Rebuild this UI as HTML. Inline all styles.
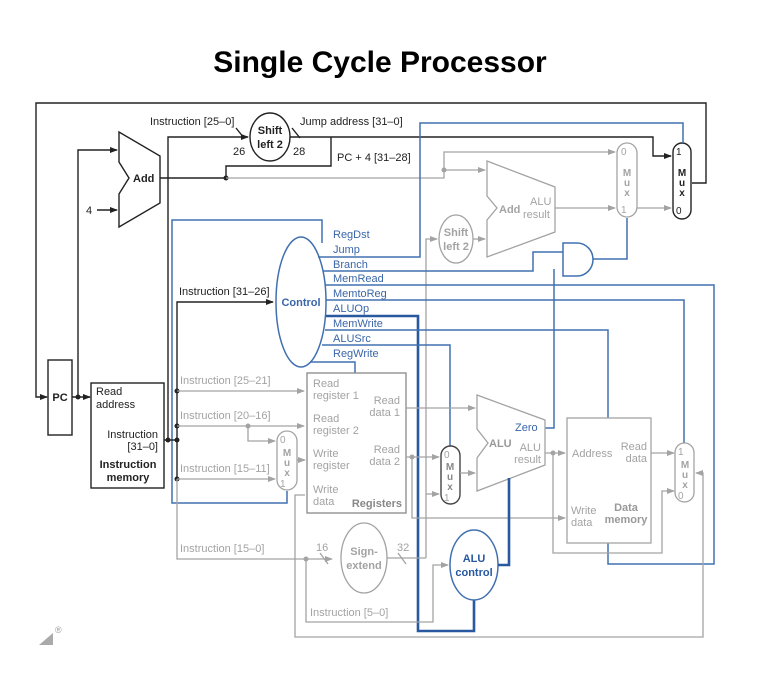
<!DOCTYPE html>
<html><head><meta charset="utf-8"><style>
html,body{margin:0;padding:0;background:#fff;width:783px;height:683px;overflow:hidden}
svg{display:block;font-family:"Liberation Sans",Arial,sans-serif}
.k{stroke:#222;fill:none;stroke-width:1.4}
.g{stroke:#a3a3a3;fill:none;stroke-width:1.3}
.b{stroke:#4070b0;fill:none;stroke-width:1.5}
.bt{stroke:#2858a0;fill:none;stroke-width:2.6}
text{font-size:11px}
.tk{fill:#222}.tg{fill:#a3a3a3}.tb{fill:#3a66aa}
.bold{font-weight:bold}
</style></head><body>
<svg width="783" height="683" viewBox="0 0 783 683">
<defs>
<marker id="ak" markerWidth="8" markerHeight="6" refX="7" refY="3" orient="auto" markerUnits="userSpaceOnUse"><path d="M0,0L8,3L0,6z" fill="#222"/></marker>
<marker id="ag" markerWidth="8" markerHeight="6" refX="7" refY="3" orient="auto" markerUnits="userSpaceOnUse"><path d="M0,0L8,3L0,6z" fill="#a3a3a3"/></marker>
</defs>
<text x="380" y="72" text-anchor="middle" style="font-size:30px;font-weight:bold" fill="#000">Single Cycle Processor</text>

<!-- black outer loop -->
<path class="k" d="M692,183H706V103H36V397H47" marker-end="url(#ak)"/>
<rect x="48" y="360" width="24" height="75" class="k" fill="#fff"/>
<text x="60" y="401" text-anchor="middle" class="tk bold">PC</text>
<path class="k" d="M72,397H90" marker-end="url(#ak)"/>
<circle cx="78" cy="397" r="2.5" fill="#222"/>
<path class="k" d="M78,397V150H117" marker-end="url(#ak)"/>
<text x="86" y="214" class="tk">4</text>
<path class="k" d="M97,210H117" marker-end="url(#ak)"/>
<polygon class="k" points="119,132 160,156 160,203 119,227 119,194 129,178 119,162"/>
<text x="133" y="182" class="tk bold">Add</text>
<path class="k" d="M160,178H226V166H331V137"/>
<circle cx="226" cy="178" r="2.5" fill="#222"/>
<path class="g" d="M226,178H444V152H615" marker-end="url(#ag)"/>
<circle cx="444" cy="170" r="2.5" fill="#a3a3a3"/>
<path class="g" d="M444,170H485" marker-end="url(#ag)"/>

<!-- jump / shift -->
<path class="k" d="M168,440V137H248" marker-end="url(#ak)"/>
<ellipse cx="270" cy="137" rx="20" ry="24" class="k" fill="#fff"/>
<text x="270" y="134" text-anchor="middle" class="tk bold">Shift</text>
<text x="270" y="148" text-anchor="middle" class="tk bold">left 2</text>
<path class="k" d="M236,128L244,138M292,128L300,138"/>
<text x="150" y="125" class="tk">Instruction [25–0]</text>
<text x="233" y="155" class="tk">26</text>
<text x="293" y="155" class="tk">28</text>
<text x="300" y="125" class="tk">Jump address [31–0]</text>
<text x="337" y="161" class="tk">PC + 4 [31–28]</text>
<path class="k" d="M290,137H653V156H671" marker-end="url(#ak)"/>

<!-- right mux -->
<rect x="673" y="143" width="18" height="76" rx="9" class="k" fill="#fff"/>
<text x="676" y="155" class="tk" style="font-size:10px">1</text>
<text x="682" y="176" text-anchor="middle" class="tk bold" style="font-size:10px">M</text>
<text x="682" y="186" text-anchor="middle" class="tk bold" style="font-size:10px">u</text>
<text x="682" y="196" text-anchor="middle" class="tk bold" style="font-size:10px">x</text>
<text x="676" y="214" class="tk" style="font-size:10px">0</text>

<!-- gray mux -->
<rect x="617" y="143" width="20" height="74" rx="10" class="g" fill="#fff"/>
<text x="621" y="155" class="tg" style="font-size:10px">0</text>
<text x="627" y="176" text-anchor="middle" class="tg bold" style="font-size:10px">M</text>
<text x="627" y="186" text-anchor="middle" class="tg bold" style="font-size:10px">u</text>
<text x="627" y="196" text-anchor="middle" class="tg bold" style="font-size:10px">x</text>
<text x="621" y="213" class="tg" style="font-size:10px">1</text>
<path class="g" d="M637,208H671" marker-end="url(#ag)"/>

<!-- Add2 -->
<polygon class="g" points="487,161 555,187 555,232 487,257 487,220 497,208 487,196"/>
<text x="499" y="213" class="tg bold">Add</text>
<text x="530" y="205" class="tg">ALU</text>
<text x="523" y="218" class="tg">result</text>
<path class="g" d="M555,208H615" marker-end="url(#ag)"/>
<ellipse cx="456" cy="239" rx="17" ry="24" class="g" fill="#fff"/>
<text x="456" y="236" text-anchor="middle" class="tg bold">Shift</text>
<text x="456" y="250" text-anchor="middle" class="tg bold">left 2</text>
<path class="g" d="M426,558V239H437" marker-end="url(#ag)"/>
<path class="g" d="M473,239H485" marker-end="url(#ag)"/>

<!-- AND gate -->
<path class="b" d="M563,243H577A16,16.5 0 0 1 577,276H563Z" fill="#fff"/>
<path class="b" d="M593,259H627V218"/>

<!-- Control -->
<ellipse cx="301" cy="302" rx="25" ry="65" class="b" fill="#fff"/>
<text x="301" y="306" text-anchor="middle" class="tb bold">Control</text>
<g class="tb">
<text x="333" y="238">RegDst</text>
<text x="333" y="253">Jump</text>
<text x="333" y="268">Branch</text>
<text x="333" y="282">MemRead</text>
<text x="333" y="297">MemtoReg</text>
<text x="333" y="312">ALUOp</text>
<text x="333" y="327">MemWrite</text>
<text x="333" y="342">ALUSrc</text>
<text x="333" y="357">RegWrite</text>
</g>
<path class="b" d="M322,243V220H172V503H287V491"/>
<path class="b" d="M318,257H420V123H683V143"/>
<path class="b" d="M323,271H533V252H563"/>
<path class="b" d="M325,285H714V564H608V543"/>
<path class="b" d="M326,300H684V443"/>
<path class="bt" d="M326,316H418V631H474V600"/>
<path class="b" d="M325,330H608V418"/>
<path class="b" d="M322,345H450V446"/>
<path class="b" d="M310,362H355V373"/>
<path class="b" d="M554,269H554V428H545"/>

<!-- Instruction memory -->
<rect x="91" y="383" width="73" height="105" class="k" fill="#fff"/>
<text x="96" y="395" class="tk">Read</text>
<text x="96" y="408" class="tk">address</text>
<text x="158" y="438" text-anchor="end" class="tk">Instruction</text>
<text x="158" y="450" text-anchor="end" class="tk">[31–0]</text>
<text x="128" y="468" text-anchor="middle" class="tk bold">Instruction</text>
<text x="128" y="481" text-anchor="middle" class="tk bold">memory</text>
<path class="k" d="M164,440H177"/>
<path class="k" d="M177,479V302H273" marker-end="url(#ak)"/>
<text x="179" y="295" class="tk">Instruction [31–26]</text>
<circle cx="168" cy="440" r="2.5" fill="#222"/>
<circle cx="177" cy="440" r="2.5" fill="#222"/>
<circle cx="177" cy="391" r="2.5" fill="#222"/>
<circle cx="177" cy="426" r="2.5" fill="#222"/>
<circle cx="177" cy="479" r="2.5" fill="#222"/>

<path class="g" d="M177,391H304" marker-end="url(#ag)"/>
<path class="g" d="M177,426H304" marker-end="url(#ag)"/>
<circle cx="248" cy="426" r="2.5" fill="#a3a3a3"/>
<path class="g" d="M248,426V441H275" marker-end="url(#ag)"/>
<path class="g" d="M177,479H275" marker-end="url(#ag)"/>
<path class="g" d="M177,479V559H332" marker-end="url(#ag)"/>
<text x="180" y="384" class="tg">Instruction [25–21]</text>
<text x="180" y="419" class="tg">Instruction [20–16]</text>
<text x="180" y="472" class="tg">Instruction [15–11]</text>
<text x="180" y="552" class="tg">Instruction [15–0]</text>

<!-- regdst mux -->
<rect x="277" y="431" width="20" height="59" rx="10" class="g" fill="#fff"/>
<text x="280" y="443" class="tg" style="font-size:10px">0</text>
<text x="287" y="456" text-anchor="middle" class="tg bold" style="font-size:10px">M</text>
<text x="287" y="466" text-anchor="middle" class="tg bold" style="font-size:10px">u</text>
<text x="287" y="476" text-anchor="middle" class="tg bold" style="font-size:10px">x</text>
<text x="280" y="487" class="tg" style="font-size:10px">1</text>
<path class="g" d="M297,460H305" marker-end="url(#ag)"/>

<!-- Registers -->
<rect x="307" y="373" width="99" height="140" class="g" style="stroke:#888" fill="#fff"/>
<g class="tg">
<text x="313" y="387">Read</text><text x="313" y="399">register 1</text>
<text x="313" y="422">Read</text><text x="313" y="434">register 2</text>
<text x="313" y="457">Write</text><text x="313" y="469">register</text>
<text x="313" y="493">Write</text><text x="313" y="505">data</text>
<text x="400" y="404" text-anchor="end">Read</text><text x="400" y="416" text-anchor="end">data 1</text>
<text x="400" y="453" text-anchor="end">Read</text><text x="400" y="465" text-anchor="end">data 2</text>
</g>
<text x="402" y="507" text-anchor="end" class="bold" fill="#888">Registers</text>
<path class="g" d="M406,408H475" marker-end="url(#ag)"/>
<path class="g" d="M406,457H439" marker-end="url(#ag)"/>
<circle cx="412" cy="457" r="2.5" fill="#a3a3a3"/>
<path class="g" d="M412,457V518H565" marker-end="url(#ag)"/>

<!-- ALU mux -->
<rect x="441" y="446" width="19" height="58" rx="9.5" class="k" style="stroke:#444" fill="#fff"/>
<text x="444" y="458" class="tg" style="font-size:10px">0</text>
<text x="450" y="470" text-anchor="middle" class="tg bold" style="font-size:10px;fill:#888">M</text>
<text x="450" y="480" text-anchor="middle" class="tg bold" style="font-size:10px;fill:#888">u</text>
<text x="450" y="490" text-anchor="middle" class="tg bold" style="font-size:10px;fill:#888">x</text>
<text x="444" y="501" class="tg" style="font-size:10px">1</text>
<path class="g" d="M460,473H475" marker-end="url(#ag)"/>
<path class="g" d="M426,494H439" marker-end="url(#ag)"/>

<!-- Sign extend -->
<ellipse cx="364" cy="558" rx="23" ry="35" class="g" fill="#fff"/>
<text x="364" y="555" text-anchor="middle" class="tg bold">Sign-</text>
<text x="364" y="569" text-anchor="middle" class="tg bold">extend</text>
<path class="g" d="M387,558H426"/>
<path class="g" d="M320,553L328,564M398,553L406,564"/>
<text x="316" y="551" class="tg">16</text>
<text x="397" y="551" class="tg">32</text>
<circle cx="306" cy="559" r="2.5" fill="#a3a3a3"/>
<path class="g" d="M306,559V622H433V565H448" marker-end="url(#ag)"/>
<text x="310" y="616" class="tg">Instruction [5–0]</text>
<path class="g" d="M305,495H295V637H703V473H696" marker-end="url(#ag)"/>

<!-- ALU -->
<polygon class="g" points="477,395 545,420 545,465 477,491 477,458 488,443 477,429"/>
<text x="489" y="447" class="bold" fill="#999">ALU</text>
<text x="515" y="431" class="tb">Zero</text>
<text x="541" y="451" text-anchor="end" class="tg">ALU</text>
<text x="541" y="463" text-anchor="end" class="tg">result</text>
<path class="g" d="M545,453H565" marker-end="url(#ag)"/>
<circle cx="553" cy="453" r="2.5" fill="#a3a3a3"/>
<path class="g" d="M553,453V553H662V491H674" marker-end="url(#ag)"/>

<!-- ALU control -->
<ellipse cx="474" cy="565" rx="24" ry="35" class="b" fill="#fff"/>
<text x="474" y="562" text-anchor="middle" class="tb bold" style="fill:#2858a0">ALU</text>
<text x="474" y="576" text-anchor="middle" class="tb bold" style="fill:#2858a0">control</text>
<path class="bt" d="M498,565H509V478"/>

<!-- Data memory -->
<rect x="567" y="418" width="84" height="125" class="g" fill="#fff"/>
<g class="tg">
<text x="572" y="457">Address</text>
<text x="647" y="450" text-anchor="end">Read</text><text x="647" y="462" text-anchor="end">data</text>
<text x="571" y="514">Write</text><text x="571" y="526">data</text>
</g>
<text x="626" y="511" text-anchor="middle" class="bold" fill="#999">Data</text>
<text x="626" y="523" text-anchor="middle" class="bold" fill="#999">memory</text>
<path class="g" d="M651,453H674" marker-end="url(#ag)"/>

<!-- memtoreg mux -->
<rect x="675" y="443" width="19" height="59" rx="9.5" class="g" fill="#fff"/>
<text x="678" y="455" class="tg" style="font-size:10px">1</text>
<text x="685" y="468" text-anchor="middle" class="tg bold" style="font-size:10px">M</text>
<text x="685" y="478" text-anchor="middle" class="tg bold" style="font-size:10px">u</text>
<text x="685" y="488" text-anchor="middle" class="tg bold" style="font-size:10px">x</text>
<text x="678" y="499" class="tg" style="font-size:10px">0</text>

<!-- logo -->
<polygon points="39,645 53,633 53,645" fill="#aaa"/>
<text x="55" y="633" style="font-size:9px" fill="#999">®</text>
</svg>
</body></html>
